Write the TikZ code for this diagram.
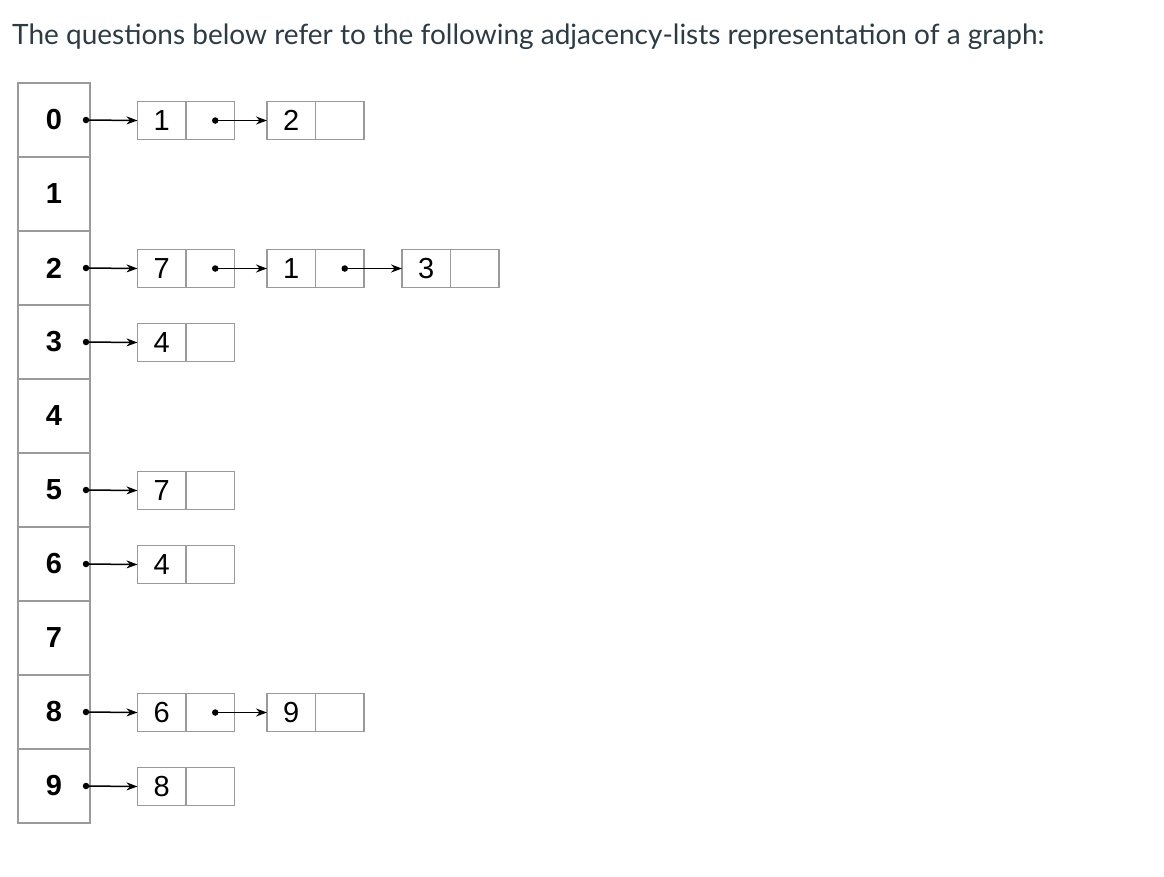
\documentclass[tikz,border=0pt]{standalone}
\usepackage{fontspec}
\setmainfont{Liberation Sans}
\newfontfamily\latofont{Lato}
\usetikzlibrary{arrows.meta}
\definecolor{titlecol}{HTML}{2D3B45}
\definecolor{boxgray}{HTML}{9A9A9A}
\tikzset{
  x=1pt, y=-1pt,
  cell/.style={draw=boxgray, line width=1.3pt, outer sep=0pt, minimum width=72pt, minimum height=74pt, inner sep=0pt, font=\fontsize{29}{29}\selectfont\bfseries, anchor=north west},
  half/.style={draw=boxgray, line width=1.3pt, outer sep=0pt, minimum width=48.5pt, minimum height=38pt, inner sep=0pt, font=\fontsize{29}{29}\selectfont, anchor=west},
  ptr/.style={line width=1.5pt, -{Stealth[length=11pt,width=8pt]}},
  dot/.style={circle, fill=black, inner sep=0pt, minimum size=6.5pt},
}
\begin{document}
\begin{tikzpicture}
\useasboundingbox (0,0) rectangle (1164,876);
\node[anchor=base west, inner sep=0pt, text=titlecol, font=\latofont\fontsize{28}{32}\selectfont] (title) at (12,44) {The questions below refer to the following adjacency-lists representation of a graph:};
% array
\foreach \i in {0,...,9} {
  \node[cell] (a\i) at (18,{83+74*\i}) {\i};
}
% list node: value box + pointer box
\newcommand{\lnode}[4]{% name, x, row, value
  \node[half] (#1v) at (#2,{120.5+74*#3}) {#4};
  \node[half, anchor=west] (#1p) at (#1v.east) {};
}
\lnode{n01}{137.5}{0}{1}
\lnode{n02}{267}{0}{2}
\lnode{n21}{137.5}{2}{7}
\lnode{n22}{267}{2}{1}
\lnode{n23}{402}{2}{3}
\lnode{n31}{137.5}{3}{4}
\lnode{n51}{137.5}{5}{7}
\lnode{n61}{137.5}{6}{4}
\lnode{n81}{137.5}{8}{6}
\lnode{n82}{267}{8}{9}
\lnode{n91}{137.5}{9}{8}
% dots and pointers
\foreach \r/\t in {0/n01,2/n21,3/n31,5/n51,6/n61,8/n81,9/n91} {
  \node[dot] (d\r) at ([xshift=-4pt]a\r.east) {};
  \draw[ptr] (d\r.center) -- (\t v.west);
}
\foreach \s/\t in {n01/n02,n21/n22,n22/n23,n81/n82} {
  \node[dot] (e\s) at ([xshift=5pt]\s p.center) {};
  \draw[ptr] (e\s.center) -- (\t v.west);
}
\end{tikzpicture}
\end{document}
